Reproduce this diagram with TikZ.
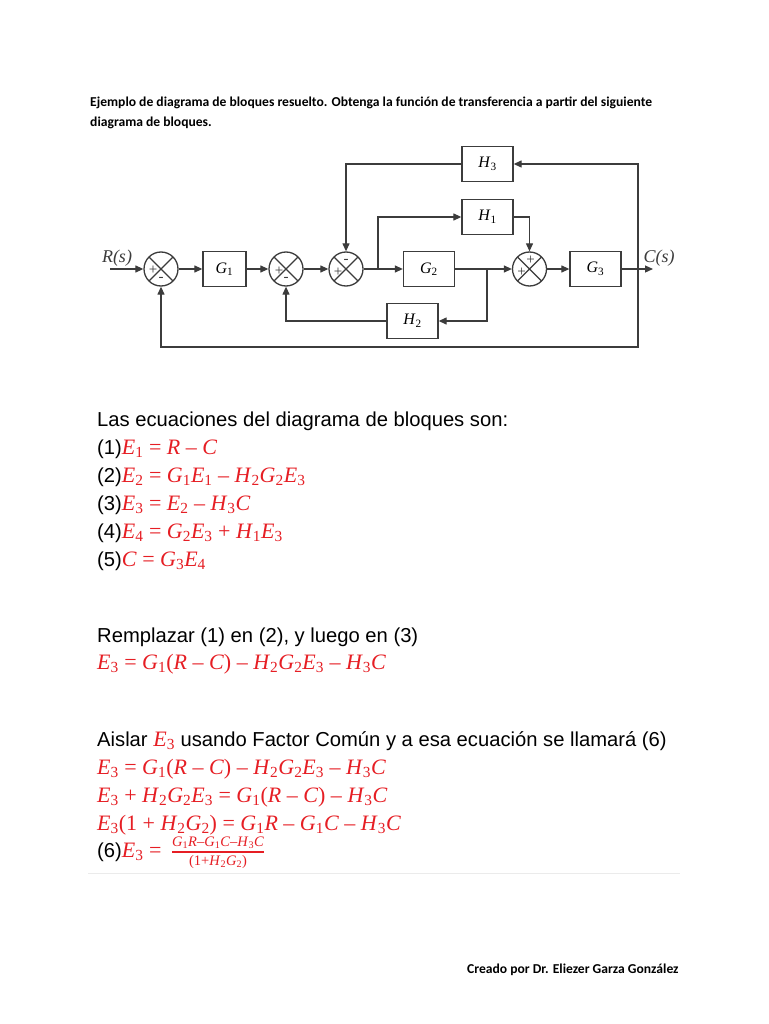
\documentclass[tikz,border=0pt]{standalone}
\usepackage{fontspec}
\setmainfont{Liberation Serif}
\newfontfamily\calb{Carlito}
\newfontfamily\arl{Liberation Sans}
\usetikzlibrary{positioning, arrows.meta, calc}
\definecolor{eqred}{RGB}{230,30,36}
\definecolor{wire}{RGB}{60,60,60}
\newcommand{\iv}[2]{\textit{#1}\textsubscript{#2}}
\newcommand{\redtx}[1]{{\color{eqred}#1}}

\begin{document}
\begin{tikzpicture}[
    x=1pt, y=-1pt,
    block/.style={
        draw=wire,
        line width=1.3pt,
        minimum width=51pt,
        minimum height=35pt,
        inner sep=0pt,
        font=\fontsize{16}{16}\selectfont
    },
    sumnode/.style={
        circle,
        draw=wire,
        line width=1.3pt,
        minimum size=34pt,
        inner sep=0pt,
        path picture={
            \draw[wire, line width=1.1pt]
                (path picture bounding box.north west) -- (path picture bounding box.south east)
                (path picture bounding box.north east) -- (path picture bounding box.south west);
        }
    },
    sgn/.style={font=\fontsize{15}{15}\selectfont, inner sep=0pt, text=wire},
    arr/.style={-{Triangle[length=8pt, width=7pt]}, draw=wire, line width=1.2pt},
    lbl/.style={font=\fontsize{18}{18}\selectfont\itshape, text=wire, inner sep=0pt, anchor=base},
    head/.style={anchor=base west, inner sep=0pt, font=\calb\bfseries\fontsize{13.6}{16}\selectfont},
    say/.style={anchor=base west, inner sep=0pt, font=\arl\fontsize{20.2}{24}\selectfont},
    eqline/.style={anchor=base west, inner sep=0pt, font=\fontsize{22}{24}\selectfont}
]

\useasboundingbox[fill=white] (0, 0) rectangle (768, 1024);

% heading
\node[head] (headA) at (90, 107) {Ejemplo de diagrama de bloques resuelto. Obtenga la función de transferencia a partir del siguiente};
\node[head] (headB) at (90, 127) {diagrama de bloques.};

% block diagram
\node[sumnode] (sumA) at (161, 269) {};
\node[block, minimum width=43pt] (g1) at (224.5, 269) {\iv{G}{1}};
\node[sumnode] (sumB) at (286, 269) {};
\node[sumnode] (sumC) at (346, 269) {};
\node[block] (g2) at (429, 269) {\iv{G}{2}};
\node[block] (h1) at (487.5, 217) {\iv{H}{1}};
\node[block] (h2) at (412.5, 321) {\iv{H}{2}};
\node[block] (h3) at (487.5, 164) {\iv{H}{3}};
\node[sumnode] (sumD) at (529.5, 269) {};
\node[block] (g3) at (595.5, 269) {\iv{G}{3}};

\node[sgn] (sAp) at ($(sumA) + (-8, 1)$) {+};
\node[sgn] (sAm) at ($(sumA) + (0, 10)$) {-};
\node[sgn] (sBp) at ($(sumB) + (-7, 2)$) {+};
\node[sgn] (sBm) at ($(sumB) + (0, 10)$) {-};
\node[sgn] (sCm) at ($(sumC) + (0, -8)$) {-};
\node[sgn] (sCp) at ($(sumC) + (-8, 3)$) {+};
\node[sgn] (sDa) at ($(sumD) + (1, -9)$) {+};
\node[sgn] (sDb) at ($(sumD) + (-8, 3)$) {+};

\coordinate (in) at (110, 269);
\coordinate (out) at (653, 269);
\coordinate (br1) at (378, 269);
\coordinate (br2) at (487, 269);
\coordinate (br3) at (638, 269);
\coordinate (fbC) at (638, 347);

\node[lbl] (rs) at (117, 262) {R(s)};
\node[lbl] (cs) at (659, 262) {C(s)};

\draw[arr] (in) -- (sumA);
\draw[arr] (sumA) -- (g1);
\draw[arr] (g1) -- (sumB);
\draw[arr] (sumB) -- (sumC);
\draw[arr] (sumC) -- (g2);
\draw[arr] (br1) |- (h1);
\draw[arr] (h1) -| (sumD);
\draw[arr] (g2) -- (sumD);
\draw[arr] (br2) |- (h2);
\draw[arr] (h2) -| (sumB);
\draw[arr] (sumD) -- (g3);
\draw[arr] (g3) -- (out);
\draw[arr] (br3) |- (h3);
\draw[arr] (h3) -| (sumC);
\draw[arr] (br3) -- (fbC) -| (sumA);

% equations
\node[say] (tA) at (97, 426) {Las ecuaciones del diagrama de bloques son:};
\node[eqline] (eqA) at (97, 454) {{\arl\fontsize{20.2}{24}\selectfont(1)}\redtx{\iv{E}{1} = \textit{R} – \textit{C}}};
\node[eqline] (eqB) at (97, 482) {{\arl\fontsize{20.2}{24}\selectfont(2)}\redtx{\iv{E}{2} = \iv{G}{1}\iv{E}{1} – \iv{H}{2}\iv{G}{2}\iv{E}{3}}};
\node[eqline] (eqC) at (97, 510) {{\arl\fontsize{20.2}{24}\selectfont(3)}\redtx{\iv{E}{3} = \iv{E}{2} – \iv{H}{3}\textit{C}}};
\node[eqline] (eqD) at (97, 538) {{\arl\fontsize{20.2}{24}\selectfont(4)}\redtx{\iv{E}{4} = \iv{G}{2}\iv{E}{3} + \iv{H}{1}\iv{E}{3}}};
\node[eqline] (eqE) at (97, 566) {{\arl\fontsize{20.2}{24}\selectfont(5)}\redtx{\textit{C} = \iv{G}{3}\iv{E}{4}}};

\node[say] (tB) at (97, 642) {Remplazar (1) en (2), y luego en (3)};
\node[eqline] (eqF) at (97, 669) {\redtx{\iv{E}{3} = \iv{G}{1}(\textit{R} – \textit{C}) – \iv{H}{2}\iv{G}{2}\iv{E}{3} – \iv{H}{3}\textit{C}}};

\node[say] (tC) at (97, 746) {Aislar {\rmfamily\fontsize{22}{24}\selectfont\redtx{\iv{E}{3}}} usando Factor Común y a esa ecuación se llamará (6)};
\node[eqline] (eqG) at (97, 774) {\redtx{\iv{E}{3} = \iv{G}{1}(\textit{R} – \textit{C}) – \iv{H}{2}\iv{G}{2}\iv{E}{3} – \iv{H}{3}\textit{C}}};
\node[eqline] (eqH) at (97, 802) {\redtx{\iv{E}{3} + \iv{H}{2}\iv{G}{2}\iv{E}{3} = \iv{G}{1}(\textit{R} – \textit{C}) – \iv{H}{3}\textit{C}}};
\node[eqline] (eqI) at (97, 830) {\redtx{\iv{E}{3}(1 + \iv{H}{2}\iv{G}{2}) = \iv{G}{1}\textit{R} – \iv{G}{1}\textit{C} – \iv{H}{3}\textit{C}}};
\node[eqline] (eqJ) at (97, 857) {{\arl\fontsize{20.2}{24}\selectfont(6)}\redtx{\iv{E}{3} = }};
\node[inner sep=0pt, text=eqred, font=\fontsize{14.5}{15}\selectfont, anchor=west] (frac) at (172, 853) {%
    \setlength{\arrayrulewidth}{1.6pt}%
    \begin{tabular}{@{}c@{}}
        \iv{G}{1}\textit{R}–\iv{G}{1}\textit{C}–\iv{H}{3}\textit{C}\\[0pt] \hline
        \rule{0pt}{13pt}(1+\iv{H}{2}\iv{G}{2})
    \end{tabular}};

\draw[black!8, line width=0.8pt] (88, 873) -- (680, 873);

% footer
\node[head] (foot) at (467, 973) {Creado por Dr. Eliezer Garza González};

\end{tikzpicture}
\end{document}
